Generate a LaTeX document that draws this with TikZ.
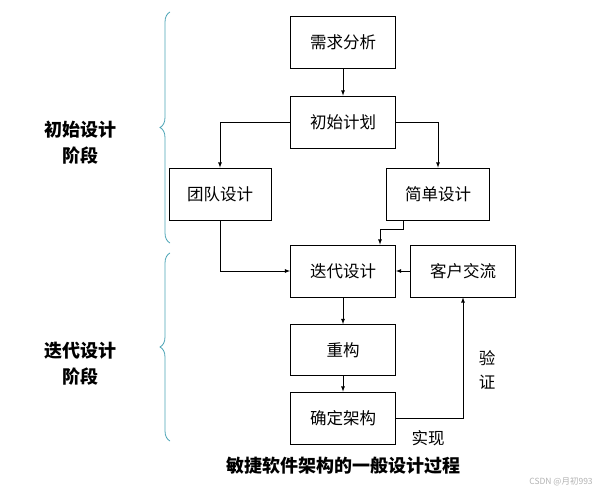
\documentclass[tikz,border=0pt]{standalone}
\usepackage{fontspec}
\setmainfont{Noto Sans CJK SC}
\usetikzlibrary{positioning,decorations.pathreplacing}
\definecolor{bracecol}{HTML}{4BA3B5}
\begin{document}
\begin{tikzpicture}[x=1pt,y=-1pt,
  box/.style={draw,thick,minimum width=105pt,minimum height=52pt,font=\fontsize{16.5}{18}\selectfont},
  arr/.style={-latex,thick},
  stage/.style={align=center,font=\fontsize{18}{26}\selectfont\bfseries},
  stagebrace/.style={bracecol,thick,decorate,decoration={brace,amplitude=10pt}}]
  \useasboundingbox (0,0) rectangle (612,494);

  \node[box] (req) at (343,42) {需求分析};
  \node[box] (plan) at (343,122) {初始计划};
  \node[box,minimum width=102pt] (team) at (220,194) {团队设计};
  \node[box,minimum width=103pt] (simple) at (438,194) {简单设计};
  \node[box] (iter) at (343,271) {迭代设计};
  \node[box] (cust) at (463,271) {客户交流};
  \node[box,minimum height=51pt] (refac) at (343,350) {重构};
  \node[box] (arch) at (343,418) {确定架构};

  \coordinate (bendA) at (403,229);
  \coordinate (bendB) at (380,229);

  \draw[arr] (req) -- (plan);
  \draw[arr] (plan.west) -| (team.north);
  \draw[arr] (plan.east) -| (simple.north);
  \draw[arr] (team.south) |- (iter.west);
  \draw[thick] (simple.south -| bendA) -- (bendA) -- (bendB);
  \draw[arr] (bendB) -- (iter.north -| bendB);
  \draw[arr] (cust) -- (iter);
  \draw[arr] (iter) -- (refac);
  \draw[arr] (refac) -- (arch);
  \draw[arr] (arch.east) -| (cust.south);

  \node[font=\fontsize{16.5}{18}\selectfont] (impl) at (428,438) {实现};
  \node[font=\fontsize{16.5}{24}\selectfont,align=center] (check) at (487,370) {验\\证};

  % stage braces
  \draw[stagebrace] (170,243) -- (170,12);
  \draw[stagebrace] (170,441) -- (170,253);
  \node[stage] (s1) at (80,143) {初始设计\\阶段};
  \node[stage] (s2) at (80,364) {迭代设计\\阶段};

  \node[font=\fontsize{18}{20}\selectfont\bfseries] (title) at (343,466) {敏捷软件架构的一般设计过程};
  \node[font=\fontsize{8.5}{10}\selectfont,text=gray!60] (mark) at (561,482) {CSDN @月初993};
\end{tikzpicture}
\end{document}
